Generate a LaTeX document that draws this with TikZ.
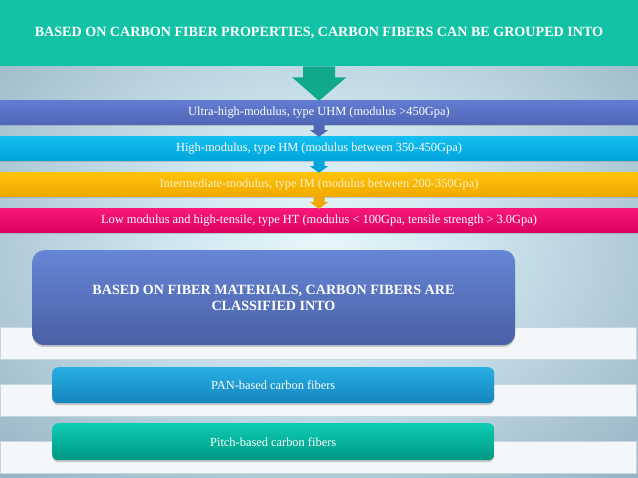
\documentclass[tikz,border=0pt]{standalone}
\usepackage{fontspec}
\setmainfont{Liberation Serif}
\usetikzlibrary{calc,shadows}
\definecolor{bgA}{HTML}{E6F6FB}
\definecolor{bgB}{HTML}{CFE6EF}
\definecolor{bgC}{HTML}{98B4C3}
\definecolor{bgD}{HTML}{6A8898}
\definecolor{bgE}{HTML}{587585}
\pgfdeclareradialshading{bgshade}{\pgfpoint{0bp}{0bp}}{color(0bp)=(bgA); color(12bp)=(bgB); color(35bp)=(bgC); color(55bp)=(bgD); color(71bp)=(bgE)}
\definecolor{teal}{HTML}{12C2A5}
\definecolor{tealdark}{HTML}{10A98C}
\definecolor{uhmT}{HTML}{627BD0}
\definecolor{uhmB}{HTML}{5066B6}
\definecolor{hmT}{HTML}{14BEF0}
\definecolor{hmB}{HTML}{00A4DC}
\definecolor{imT}{HTML}{FFC30C}
\definecolor{imB}{HTML}{F0A800}
\definecolor{htT}{HTML}{F71879}
\definecolor{htB}{HTML}{DA0060}
\definecolor{matT}{HTML}{6686D6}
\definecolor{matB}{HTML}{4A5FA5}
\definecolor{panT}{HTML}{27AFE4}
\definecolor{panB}{HTML}{1584BC}
\definecolor{pitT}{HTML}{0ECCB4}
\definecolor{pitB}{HTML}{009782}
\definecolor{stripcol}{HTML}{F3F7FA}
\definecolor{stripline}{HTML}{C5D6E0}
\definecolor{imtext}{HTML}{FFF1C6}
\tikzset{
  bar/.style={minimum width=638pt, minimum height=24pt, inner sep=0pt,
    text=white, font=\fontsize{12.4}{14}\selectfont,
    drop shadow={shadow xshift=0pt, shadow yshift=-1.5pt, opacity=0.35}},
  strip/.style={fill=stripcol, draw=stripline, line width=0.6pt, minimum width=636pt, minimum height=32pt, inner sep=0pt},
  rbox/.style={rounded corners=6pt, inner sep=0pt, text=white,
    drop shadow={shadow xshift=0pt, shadow yshift=-2pt, opacity=0.4}},
  boxtext/.style={text=white, font=\fontsize{12.4}{14}\selectfont},
  heading/.style={text=white, font=\fontsize{14.1}{16}\selectfont\bfseries, align=center}
}
\begin{document}
\begin{tikzpicture}[x=1pt,y=-1pt]
\useasboundingbox (0,0) rectangle (638,478);
\shade[shading=bgshade] (0,0) rectangle (638,478);
% top band
\node[fill=teal, minimum width=638pt, minimum height=66pt, inner sep=0pt, anchor=north west] (top) at (0,0) {};
\node[heading] (toptext) at (319,33) {BASED ON CARBON FIBER PROPERTIES, CARBON FIBERS CAN BE GROUPED INTO};
% bars
\node[bar, top color=uhmT, bottom color=uhmB] (uhm) at (319,113) {Ultra-high-modulus, type UHM (modulus >450Gpa)};
\node[bar, top color=hmT, bottom color=hmB] (hm) at (319,149) {High-modulus, type HM (modulus between 350-450Gpa)};
\node[bar, top color=imT, bottom color=imB, text=imtext] (im) at (319,185) {Intermediate-modulus, type IM (modulus between 200-350Gpa)};
\node[bar, top color=htT, bottom color=htB] (ht) at (319,221) {Low modulus and high-tensile, type HT (modulus < 100Gpa, tensile strength > 3.0Gpa)};
% big arrow
\fill[tealdark] ($(top.south)+(-16,0)$) -- ($(top.south)+(16,0)$) -- ($(top.south)+(16,11)$) -- ($(top.south)+(27,11)$) -- (uhm.north) -- ($(top.south)+(-27,11)$) -- ($(top.south)+(-16,11)$) -- cycle;
% small arrows
\foreach \a/\b/\c in {uhm/hm/uhmB, hm/im/hmB, im/ht/imB}{
  \fill[\c] ($(\a.south)+(-5.5,0)$) -- ($(\a.south)+(5.5,0)$) -- ($(\a.south)+(5.5,5)$) -- ($(\a.south)+(9,5)$) -- (\b.north) -- ($(\a.south)+(-9,5)$) -- ($(\a.south)+(-5.5,5)$) -- cycle;
}
% strips
\node[strip, anchor=north west] (s1) at (0,327) {};
\node[strip, anchor=north west] (s2) at (0,384) {};
\node[strip, anchor=north west] (s3) at (0,441) {};
% lower boxes
\node[rbox, rounded corners=12pt, top color=matT, bottom color=matB, minimum width=483pt, minimum height=95pt, anchor=north west] (mat) at (32,250) {};
\node[heading] (mattext) at (273.5,298) {BASED ON FIBER MATERIALS, CARBON FIBERS ARE\\CLASSIFIED INTO};
\node[rbox, top color=panT, bottom color=panB, minimum width=442pt, minimum height=36pt, anchor=north west] (pan) at (52,367) {};
\node[boxtext] (pantext) at (pan.center) {PAN-based carbon fibers};
\node[rbox, top color=pitT, bottom color=pitB, minimum width=442pt, minimum height=37pt, anchor=north west] (pitch) at (52,423) {};
\node[boxtext] (pitchtext) at (pitch.center) {Pitch-based carbon fibers};
\end{tikzpicture}
\end{document}
